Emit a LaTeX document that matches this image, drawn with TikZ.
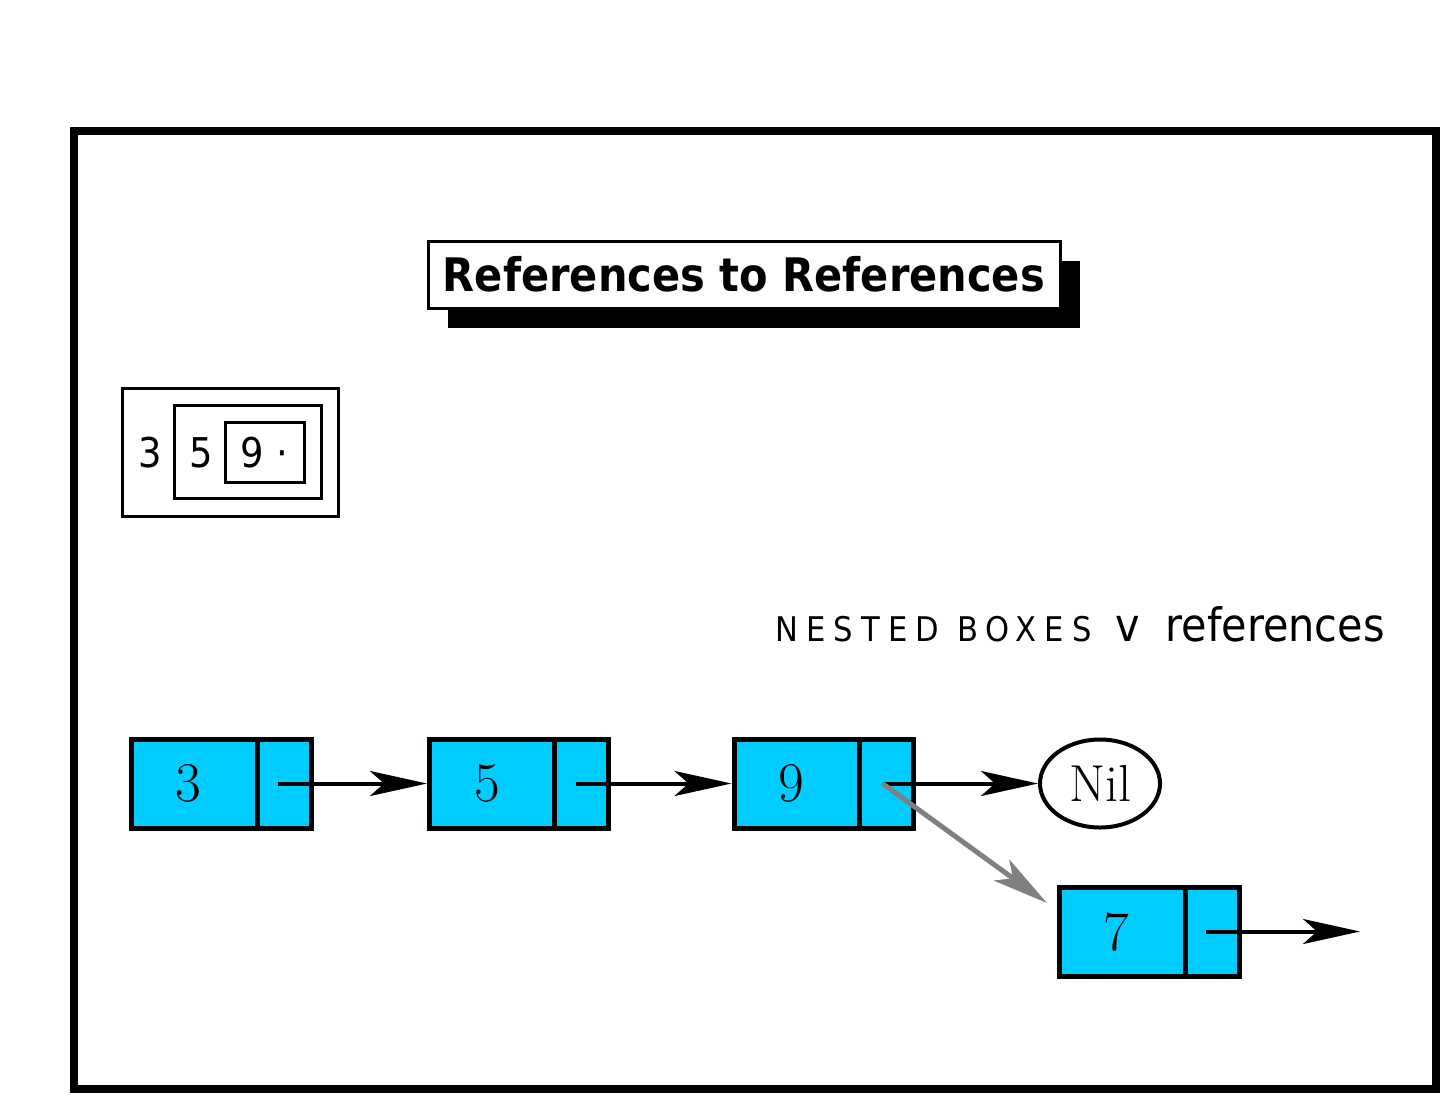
\documentclass[tikz,border=0pt]{standalone}
\usepackage{fontspec}
\newfontfamily\dvc{DejaVu Sans Condensed}
\newfontfamily\dvcsp[LetterSpace=24]{DejaVu Sans Condensed}
\usetikzlibrary{arrows.meta,shapes.geometric,shadows}
\definecolor{nodecyan}{HTML}{00CCFF}
\tikzset{
  valbox/.style={draw, fill=nodecyan, line width=2.5pt, minimum width=63pt, minimum height=44.5pt, inner sep=0pt, font=\fontsize{28}{32}\selectfont, execute at end node=\hspace{5.5pt}},
  ptrbox/.style={draw, fill=nodecyan, line width=2.5pt, minimum width=27pt, minimum height=44.5pt, inner sep=0pt},
  link/.style={line width=2pt, -{Stealth[length=28.5pt,width=12.5pt,inset=7pt]}},
  glink/.style={line width=2.5pt, draw={rgb,255:red,128;green,128;blue,128}, -{Stealth[length=28pt,width=13pt,inset=7pt]}},
  nestbox/.style={line width=1.5pt},
  nesttext/.style={font=\dvc\fontsize{20.5}{24}\selectfont, inner sep=0pt, anchor=base}
}
\begin{document}
\begin{tikzpicture}[x=0.5pt,y=-0.5pt]
\useasboundingbox (0,0) rectangle (1454,1114);
% frame
\draw[line width=4pt] (74,131) rectangle (1436,1089);
% title
\node[draw, fill=white, line width=1.5pt, minimum width=316pt, minimum height=33.5pt, inner sep=0pt,
      drop shadow={fill=black, opacity=1, shadow xshift=10pt, shadow yshift=-10pt},
      font=\dvc\bfseries\fontsize{23.1}{28}\selectfont] (title) at (744,274.5) {References to References};
% nested boxes
\draw[nestbox] (122,388) rectangle (338,516);
\draw[nestbox] (174,405) rectangle (321,498);
\draw[nestbox] (225,422) rectangle (304,482);
\node[nesttext] (n3) at (150,467) {3};
\node[nesttext] (n5) at (201,467) {5};
\node[nesttext] (n9) at (252,467) {9};
\node[nesttext] (ndot) at (282,467) {·};
% caption
\node[anchor=base west, inner sep=0pt] (cap) at (775,641)
  {{\dvcsp\fontsize{17}{20}\selectfont NESTED BOXES}\hspace{5pt}{\dvc\fontsize{23}{28}\selectfont\ v\hspace{6.5pt} references}};
% list
\node[valbox] (v1) at (194,783.5) {3};
\node[ptrbox] (p1) at (284,783.5) {};
\node[valbox] (v2) at (492.5,783.5) {5};
\node[ptrbox] (p2) at (581.5,783.5) {};
\node[valbox] (v3) at (797,783.5) {9};
\node[ptrbox] (p3) at (886.5,783.5) {};
\node[valbox] (v4) at (1122,931.5) {7};
\node[ptrbox] (p4) at (1212,931.5) {};
\node[draw, ellipse, line width=2pt, minimum width=60pt, minimum height=44pt, inner sep=0pt, font=\fontsize{26}{30}\selectfont] (nil) at (1100,783.5) {Nil};
\coordinate (c7) at (1047,903);
\coordinate (cend) at (1360,931.5);
\draw[link] ([xshift=-3pt]p1.center) -- (v2.west);
\draw[link] ([xshift=-3pt]p2.center) -- (v3.west);
\draw[link] ([xshift=-2pt]p3.center) -- (nil.west);
\draw[glink] ([xshift=-2pt]p3.center) -- (c7);
\draw[link] ([xshift=-3pt]p4.center) -- (cend);
\end{tikzpicture}
\end{document}
